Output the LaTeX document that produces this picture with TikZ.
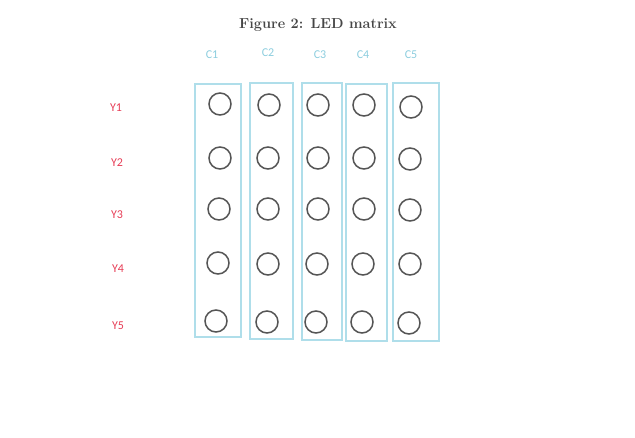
\documentclass[tikz,border=0pt]{standalone}
\usepackage{fontspec}
\newfontfamily\lbl{Carlito}
\definecolor{rowred}{RGB}{230,60,85}
\definecolor{colblue}{RGB}{140,205,222}
\definecolor{boxblue}{RGB}{175,222,234}
\definecolor{ledgray}{RGB}{85,85,85}
\definecolor{titlegray}{RGB}{70,70,70}
\begin{document}
\begin{tikzpicture}[x=1pt,y=-1pt,
  rowlbl/.style={font=\lbl\fontsize{12}{14}\selectfont, text=rowred, inner sep=0pt},
  collbl/.style={font=\lbl\fontsize{12}{14}\selectfont, text=colblue, inner sep=0pt},
  colbox/.style={draw=boxblue, line width=1.1pt},
  led/.style={circle, draw=ledgray, line width=1.5pt, minimum size=22pt, inner sep=0pt}]
\useasboundingbox (0,0) rectangle (635,438);
\node[font=\bfseries\fontsize{14.5}{17}\selectfont, text=titlegray] (title) at (318,25) {Figure 2: LED matrix};
% column labels
\node[collbl] (c1) at (212,55) {C1};
\node[collbl] (c2) at (268,53) {C2};
\node[collbl] (c3) at (320,55) {C3};
\node[collbl] (c4) at (363,55) {C4};
\node[collbl] (c5) at (411,55) {C5};
% row labels
\node[rowlbl] (y1) at (116,107.5) {Y1};
\node[rowlbl] (y2) at (117,162.5) {Y2};
\node[rowlbl] (y3) at (117,214.5) {Y3};
\node[rowlbl] (y4) at (118,268.5) {Y4};
\node[rowlbl] (y5) at (118,325.5) {Y5};
% column boxes
\draw[colbox] (195,84) rectangle (241,337);
\draw[colbox] (250,83) rectangle (293,339);
\draw[colbox] (302,83) rectangle (342,340);
\draw[colbox] (346,84) rectangle (387,341);
\draw[colbox] (393,83) rectangle (439,341);
% LEDs
\foreach \x/\y/\n in {220/104/11,269/105/12,318/105/13,364/105/14,411/107/15,
                      220/158/21,268/158/22,318/158/23,364/158/24,410/159/25,
                      219/209/31,268/209/32,318/209/33,364/209/34,410/210/35,
                      218/263/41,268/264/42,317/264/43,363/264/44,410/264/45,
                      216/321/51,267/322/52,316/322/53,362/322/54,409/323/55}
  \node[led] (led\n) at (\x,\y) {};
\end{tikzpicture}
\end{document}
